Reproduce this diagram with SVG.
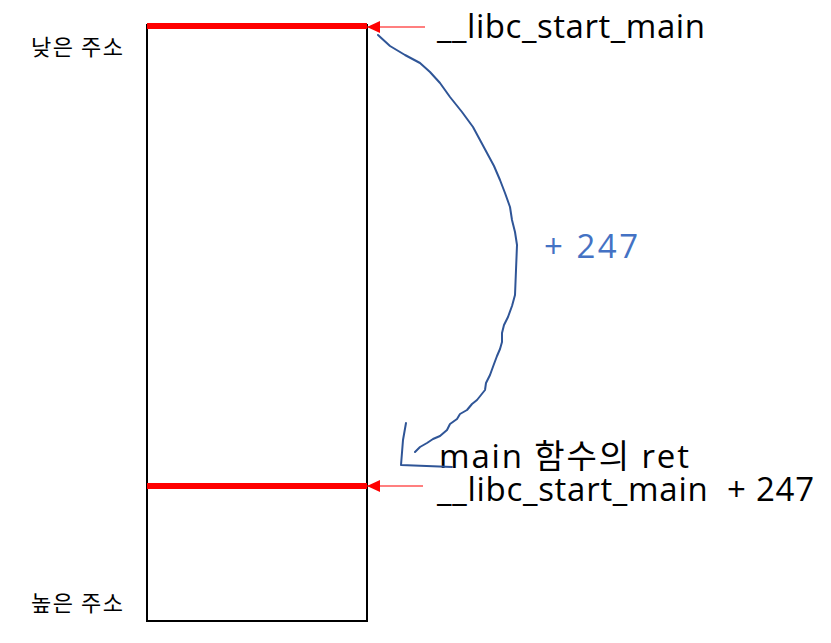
<svg xmlns="http://www.w3.org/2000/svg" width="831" height="643" viewBox="0 0 831 643">
<defs>
<style>
.lbl{font-family:"Open Sans","Noto Sans CJK KR",sans-serif;fill:#000;}
.big{font-size:33px;}
.small{font-family:"Noto Sans CJK KR",sans-serif;font-size:22px;fill:#000;}
.bar{stroke:#FF0000;stroke-width:6;}
.ptr{stroke:#FF0000;stroke-width:1.2;fill:none;}
.curve{stroke:#2F5597;stroke-width:2;fill:none;stroke-linejoin:round;stroke-linecap:round;}
</style>
<marker id="redhead" viewBox="0 0 13 12" refX="13" refY="6" markerWidth="13" markerHeight="12" markerUnits="userSpaceOnUse" orient="auto">
<path d="M0,0 L13,6 L0,12 Z" fill="#FF0000"/>
</marker>
</defs>
<rect width="831" height="643" fill="#FFFFFF"/>
<g id="stack">
<rect x="147" y="25" width="220" height="596" fill="none" stroke="#000" stroke-width="2"/>
</g>
<g id="bar-top">
<line class="bar" x1="147" y1="26" x2="367" y2="26"/>
</g>
<g id="bar-ret">
<line class="bar" x1="147" y1="486" x2="367" y2="486"/>
</g>
<g id="label-low">
<text class="small" x="31" y="55" textLength="92">낮은 주소</text>
</g>
<g id="label-high">
<text class="small" x="31" y="611" textLength="92">높은 주소</text>
</g>
<g id="label-start">
<text class="lbl big" x="437" y="38" textLength="268">__libc_start_main</text>
</g>
<g id="label-ret">
<text class="lbl big" x="439" y="468" textLength="250">main 함수의 ret</text>
<text class="lbl big" x="437" y="501" textLength="377" xml:space="preserve">__libc_start_main  + 247</text>
</g>
<g id="label-offset">
<text class="lbl" x="544" y="258" font-size="33" style="fill:#4472C4" textLength="94">+ 247</text>
</g>
<g id="connectors">
<line class="ptr" x1="425" y1="27" x2="367" y2="27" marker-end="url(#redhead)"/>
<line class="ptr" x1="423" y1="486" x2="367" y2="486" marker-end="url(#redhead)"/>
<polyline class="curve" points="378,35 390,46 405,55 420,63 430,72 440,83 450,97 462,112 473,127 480,140 487,153 494,166 500,180 505,193 510,207 512,220 515,232 517,245 516,270 515,295 512,306 508,317 504,325 502,333 502,342 500,349 497,356 494,364 490,375 486,383 485,390 481,395 477,400 472,404 467,410 460,414 457,419 450,424 447,430 440,436 433,439 427,443 420,447 415,452"/>
<path class="curve" d="M406,423 L403,440 L401,465 L452,467"/>
</g>
</svg>
